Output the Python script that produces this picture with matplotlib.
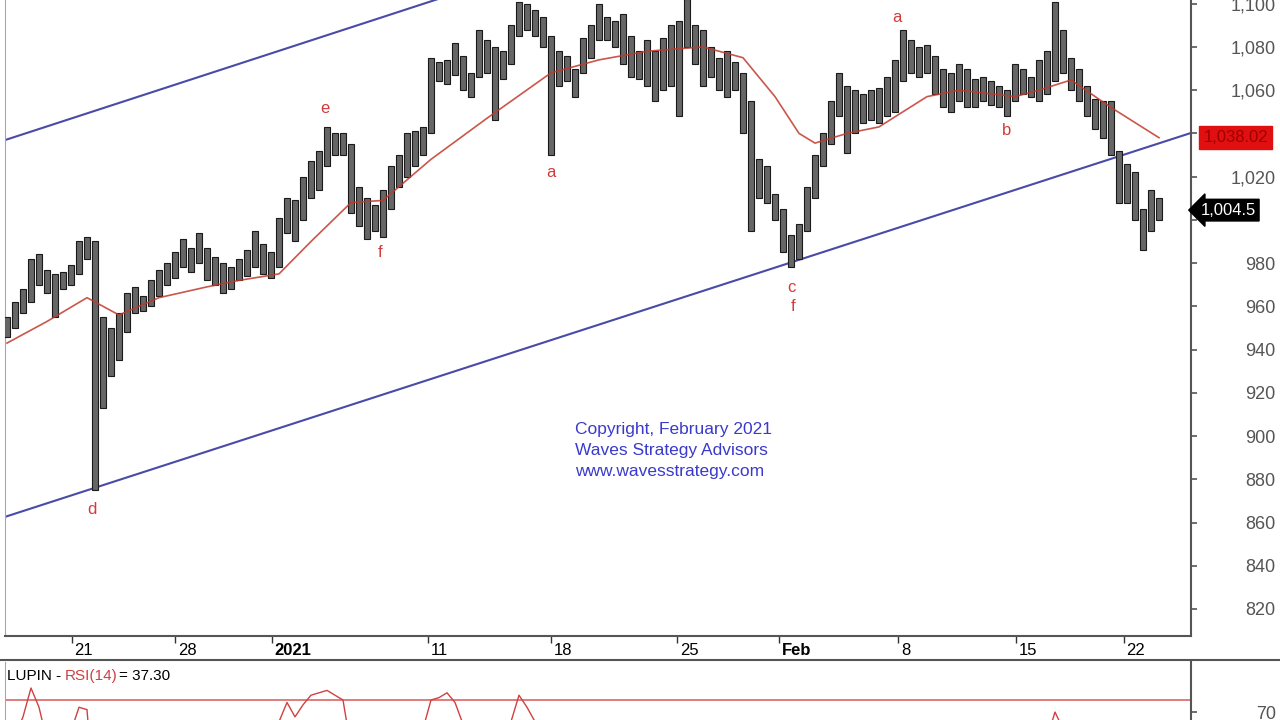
import matplotlib.pyplot as plt
from matplotlib.lines import Line2D
import matplotlib.transforms as mtransforms

plt.rcParams['font.family'] = ['Liberation Sans', 'DejaVu Sans']

# price bars (one bar per slot)
highs = [955, 962, 968, 982, 984, 977, 975, 976, 979, 990,
         992, 990, 955, 950, 957, 966, 969, 965, 972, 977,
         980, 985, 991, 987, 994, 987, 983, 980, 978, 982,
         986, 995, 989, 985, 1001, 1010, 1009, 1020, 1027, 1032,
         1043, 1040, 1040, 1035, 1015, 1010, 1007, 1014, 1025, 1030,
         1040, 1041, 1043, 1075, 1073, 1074, 1082, 1076, 1068, 1088,
         1083, 1080, 1078, 1090, 1101, 1100, 1097, 1094, 1085, 1078,
         1076, 1070, 1084, 1090, 1100, 1094, 1092, 1095, 1085, 1078,
         1083, 1078, 1084, 1090, 1092, 1102, 1090, 1088, 1080, 1075,
         1078, 1073, 1068, 1055, 1028, 1025, 1012, 1005, 993, 998,
         1015, 1030, 1040, 1055, 1068, 1062, 1060, 1058, 1060, 1061,
         1066, 1074, 1088, 1083, 1080, 1081, 1076, 1070, 1068, 1072,
         1070, 1065, 1066, 1064, 1062, 1060, 1072, 1070, 1066, 1074,
         1078, 1101, 1088, 1075, 1070, 1062, 1056, 1055, 1055, 1032,
         1026, 1022, 1005, 1014, 1010]
lows = [946, 950, 957, 962, 970, 966, 955, 968, 970, 975,
        982, 875, 913, 928, 935, 948, 957, 958, 960, 965,
        970, 973, 978, 976, 980, 972, 970, 966, 968, 972,
        974, 978, 975, 973, 978, 994, 990, 1000, 1010, 1014,
        1025, 1030, 1030, 1003, 997, 991, 995, 992, 1005, 1015,
        1020, 1025, 1030, 1040, 1064, 1063, 1067, 1060, 1057, 1066,
        1068, 1046, 1065, 1072, 1085, 1088, 1085, 1080, 1030, 1062,
        1064, 1057, 1068, 1075, 1083, 1083, 1080, 1072, 1066, 1065,
        1062, 1055, 1060, 1062, 1048, 1080, 1072, 1062, 1066, 1060,
        1057, 1060, 1040, 995, 1010, 1008, 1000, 985, 978, 982,
        995, 1010, 1025, 1035, 1048, 1031, 1040, 1045, 1046, 1045,
        1048, 1050, 1064, 1068, 1066, 1068, 1058, 1052, 1050, 1055,
        1052, 1052, 1055, 1053, 1052, 1048, 1055, 1058, 1057, 1055,
        1058, 1064, 1068, 1060, 1055, 1048, 1042, 1038, 1030, 1008,
        1008, 1000, 986, 995, 1000]

# moving average (red), read at some bars
ma_idx = [0, 5, 10, 14, 19, 25, 29, 34, 38, 43, 47, 53, 60, 68, 74, 80,
          87, 92, 96, 99, 101, 105, 109, 115, 119, 126, 129, 133, 138, 144]
ma_val = [943, 953, 964, 956, 964, 969, 972, 975, 990, 1008, 1009, 1028,
          1047, 1068, 1074, 1078, 1080, 1075, 1057, 1040, 1035.5, 1040,
          1043, 1057, 1060, 1057, 1060, 1064.7, 1052, 1038]

# channel lines (start idx, start price, end idx, end price)
lower_channel = [-0.25, 862.6, 148, 1040.2]
upper_channel = [-0.25, 1036.9, 148, 1215.6]

# rsi(14), one value per bar
rsi = [55, 60, 68, 80, 72, 58, 52, 55, 62, 72,
       71, 30, 35, 33, 40, 48, 52, 50, 54, 57,
       58, 61, 64, 60, 64, 56, 52, 50, 50, 54,
       57, 62, 58, 55, 66, 74, 68, 73, 77, 78,
       79, 77, 75, 55, 45, 42, 44, 46, 52, 56,
       60, 61, 63, 75, 76, 78, 74, 65, 58, 64,
       62, 55, 58, 66, 77, 72, 66, 62, 45, 52,
       52, 50, 58, 62, 64, 62, 60, 58, 52, 52,
       50, 48, 52, 55, 50, 63, 58, 55, 52, 50,
       50, 48, 42, 30, 30, 28, 26, 24, 22, 28,
       38, 46, 52, 58, 62, 52, 54, 54, 55, 55,
       57, 60, 65, 63, 61, 61, 57, 54, 52, 55,
       54, 52, 53, 52, 51, 49, 55, 54, 53, 57,
       59, 70, 63, 56, 52, 47, 44, 43, 42, 33,
       32, 31, 28, 36, 37.3]

tick_pos = [8.1, 21.0, 33.1, 52.6, 68.0, 83.75, 96.5, 111.4, 126.1, 139.6]
tick_lab = ['21', '28', '2021', '11', '18', '25', 'Feb', '8', '15', '22']

# price axis values; 1,040 and 1,000 sit under the price tags
price_ticks = list(range(820, 1101, 20))
hidden_ticks = [1040, 1000]

wave_labels = [('e', 39.75, 1051.7), ('f', 46.6, 985), ('a', 68, 1022),
               ('c', 98.1, 968.5), ('f', 98.25, 960), ('a', 111.25, 1093.4),
               ('b', 125, 1041.5), ('d', 10.6, 865.8)]

n = len(highs)
idx = list(range(n))

fig = plt.figure(figsize=(12.8, 7.2), dpi=100)
ax = fig.add_axes([5 / 1280, 1 - 636 / 720, 1186 / 1280, 636 / 720])

# bars
ax.bar(idx, [h - l for h, l in zip(highs, lows)], bottom=lows, width=0.7,
       color='#666666', edgecolor='#1a1a1a', linewidth=0.8, zorder=3)
ax.plot(ma_idx, ma_val, color='#c0392b', lw=1.2, alpha=0.85, zorder=4)

for ch in (lower_channel, upper_channel):
    ax.plot([ch[0], ch[2]], [ch[1], ch[3]], color='#4a4aa8', lw=1.5, zorder=2)

for txt, xi, yv in wave_labels:
    ax.text(xi, yv, txt, color='#d23b3b', fontsize=12, ha='center', va='center')

ax.text(0.4805, 0.324, 'Copyright, February 2021', transform=ax.transAxes,
        color='#3a3acc', fontsize=12.5, va='center')
ax.text(0.4805, 0.292, 'Waves Strategy Advisors', transform=ax.transAxes,
        color='#3a3acc', fontsize=12.5, va='center')
ax.text(0.4805, 0.259, 'www.wavesstrategy.com', transform=ax.transAxes,
        color='#3a3acc', fontsize=12.5, va='center')

ax.set_xlim(-0.25, 148)
ax.set_ylim(807.5, 1101.7)

ax.yaxis.tick_right()
ax.set_yticks(price_ticks)
ax.set_yticklabels(['' if v in hidden_ticks else '{:,}'.format(v) for v in price_ticks])
ax.tick_params(axis='y', direction='out', length=4, width=1.2, color='#555',
               pad=57, labelsize=13, labelcolor='#555')
for lab in ax.get_yticklabels():
    lab.set_ha('right')

ax.set_xticks(tick_pos)
ax.set_xticklabels(tick_lab)
ax.tick_params(axis='x', direction='out', length=5, width=1, color='#333',
               pad=0, labelsize=12)
for lab in ax.get_xticklabels():
    lab.set_ha('left')
    if lab.get_text() in ('2021', 'Feb'):
        lab.set_fontweight('bold')
offset = mtransforms.ScaledTranslation(2 / 72, 0, fig.dpi_scale_trans)
for lab in ax.get_xticklabels():
    lab.set_transform(lab.get_transform() + offset)

ax.spines['top'].set_visible(False)
ax.spines['left'].set_color('#9ab')
ax.spines['right'].set_color('#555')
ax.spines['right'].set_linewidth(1.5)
ax.spines['bottom'].set_color('#555')
ax.spines['bottom'].set_linewidth(1.5)

# price tags on the right axis
tag_tr = mtransforms.blended_transform_factory(ax.transAxes, ax.transData)
ax.text(1.0105, 1038, '1,038.02', transform=tag_tr, fontsize=12,
        color='#a00000', va='center', ha='left', clip_on=False, zorder=6,
        bbox=dict(boxstyle='square,pad=0.25', fc='#e01010', ec='#e01010'))
ax.text(1.008, 1004.5, '1,004.5', transform=tag_tr, fontsize=12,
        color='white', va='center', ha='left', clip_on=False, zorder=6,
        bbox=dict(boxstyle='larrow,pad=0.2', fc='black', ec='black'))

# separator line below the date row
fig.add_artist(Line2D([0, 1], [1 - 660 / 720] * 2, transform=fig.transFigure,
                      color='#555', lw=1.5))

# rsi panel
rax = fig.add_axes([5 / 1280, 0, 1186 / 1280, 58 / 720])
rax.plot(idx, rsi, color='#d04040', lw=1.0)
rax.axhline(75, color='#d04040', lw=1.2, alpha=0.8)
rax.set_xlim(-0.25, 148)
rax.set_ylim(66.7, 90.8)
rax.set_xticks([])
rax.yaxis.tick_right()
rax.set_yticks([70])
rax.tick_params(axis='y', direction='out', length=4, width=1.2, color='#555',
                pad=57, labelsize=13, labelcolor='#555')
for lab in rax.get_yticklabels():
    lab.set_ha('right')
for s in ('top', 'bottom'):
    rax.spines[s].set_visible(False)
rax.spines['left'].set_color('#9ab')
rax.spines['right'].set_color('#555')
rax.spines['right'].set_linewidth(1.5)

rax.text(0.002, 0.76, 'LUPIN - ', transform=rax.transAxes, fontsize=11, va='center')
rax.text(0.0505, 0.76, 'RSI(14)', transform=rax.transAxes, fontsize=11,
         va='center', color='#d04040')
rax.text(0.0965, 0.76, '= 37.30', transform=rax.transAxes, fontsize=11, va='center')

fig.savefig('out.png', dpi=100)
